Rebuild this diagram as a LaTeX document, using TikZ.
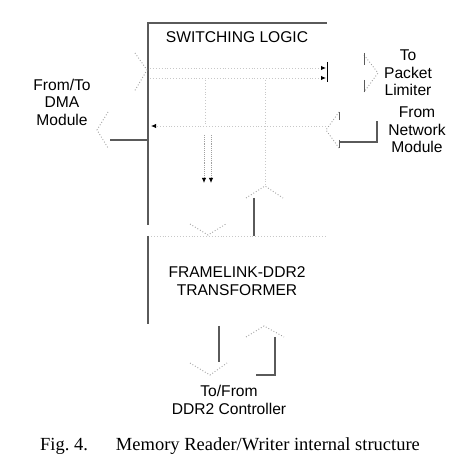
\documentclass[tikz,border=0pt]{standalone}
\usepackage{fontspec}
\setmainfont{Liberation Serif}
\setsansfont{Liberation Sans}
\usetikzlibrary{arrows.meta,positioning,calc}
\definecolor{linegray}{HTML}{5A5A5A}
\definecolor{dotgray}{HTML}{A0A0A0}
\definecolor{fadegray}{HTML}{C8C8C8}
\tikzset{
  solidline/.style={draw=linegray,line width=1.3},
  dotline/.style={draw=dotgray,dotted,line width=0.9},
  fadeline/.style={draw=fadegray,dotted,line width=0.9},
  tipline/.style={draw=fadegray,dotted,line width=0.9,-{Latex[length=5,width=4.5,black]}},
  blocktext/.style={font=\sffamily\fontsize{15.6}{17.5}\selectfont,align=center,text=black,inner sep=0},
}
\begin{document}
\begin{tikzpicture}[x=1pt,y=-1pt]
  \useasboundingbox (0,0) rectangle (474,454); % 画像の大きさ
  \draw[solidline] (148,225) -- (148,23) -- (327,23); % スイッチングロジックの枠（左・上）
  \node[blocktext] (swlogic) at (237,37) {SWITCHING LOGIC}; % 上のブロック名
  \draw[fadeline] (148,236) -- (327,236); % 下のブロックの上辺（かすれている）
  \draw[solidline] (148,236) -- (148,324); % 下のブロックの左辺
  \node[blocktext,text width=200] (fltrans) at (237,281) {FRAMELINK-DDR2\\TRANSFORMER}; % 下のブロック名

  \draw[tipline] (150,68) -- (326,68); % DMA から Packet Limiter への経路（上）
  \draw[tipline] (150,78) -- (326,78); % 同（下）
  \draw[black,line width=1] (327,62) -- (327,82); % 出口の縦棒
  \draw[tipline] (326,126) -- (151,126); % Network から DMA への経路
  \draw[fadeline] (205,80) -- (205,126); % ロジック内の縦線（左）
  \draw[fadeline] (265,80) -- (265,186); % 変換器から上がる縦線
  \draw[tipline,draw=dotgray,densely dotted] (204,135) -- (204,183); % 変換器へ下がる矢印（左）
  \draw[tipline,draw=dotgray,densely dotted] (211,135) -- (211,183); % 変換器へ下がる矢印（右）

  \draw[dotline] (135,53) -- (147,70) -- (134,92); % DMA からの入力の矢じり
  \draw[dotline] (108,112) -- (97,130) -- (108,148); % DMA への出力の矢じり
  \draw[solidline] (110,140) -- (148,140); % DMA への出力の軸
  \node[blocktext] (dma) at (62,102) {From/To\\DMA\\Module}; % 左のラベル

  \draw[dotline] (364,55) -- (378,73) -- (364,92); % Packet Limiter への矢じり
  \draw[linegray,line width=0.8] (364,53) -- (364,65) (364,80) -- (364,92); % 矢じりの縦棒
  \node[blocktext] (pktlim) at (408,73) {To\\Packet\\Limiter}; % 右上のラベル
  \draw[dotline] (339,112) -- (326,130) -- (339,148); % Network からの矢じり
  \draw[linegray,line width=0.8] (339,112) -- (339,120) (339,140) -- (339,148); % 矢じりの縦棒
  \draw[solidline] (339,142) -- (377,142) -- (377,121); % Network からの軸
  \node[blocktext] (netmod) at (417,130) {From\\Network\\Module}; % 右下のラベル

  \draw[dotline] (246,198) -- (265,186) -- (283,198); % 上向きの矢じり（中央）
  \draw[solidline] (254,198) -- (254,236); % 上向きの軸（中央）
  \draw[dotline] (190,224) -- (208,235) -- (226,224); % 下向きの矢じり（中央）

  \draw[solidline] (219,326) -- (219,362); % DDR2 への軸
  \draw[dotline] (190,363) -- (210,375) -- (227,363); % DDR2 への矢じり
  \draw[dotline] (246,337) -- (264,326) -- (284,337); % DDR2 からの矢じり
  \draw[solidline] (275,337) -- (275,375) -- (256,375); % DDR2 からの軸
  \node[blocktext] (ddr2) at (229,400) {To/From\\DDR2 Controller}; % 下のラベル

  \node[font=\fontsize{18.5}{21}\selectfont,anchor=base west,inner sep=0] (caption) at (40,450)
    {Fig.~4.\hspace{28pt}Memory Reader/Writer internal structure}; % 図の説明
\end{tikzpicture}
\end{document}
